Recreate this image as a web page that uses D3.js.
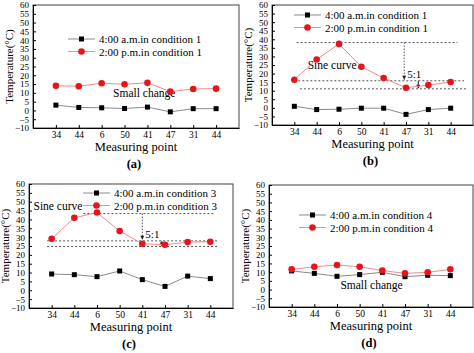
<!DOCTYPE html>
<html>
<head>
<meta charset="utf-8">
<script src="https://cdn.jsdelivr.net/npm/d3@7"></script>
<style>
  body { margin: 0; background: #fff; }
  svg { display: block; }
  svg text { font-family: "Liberation Serif", "Times New Roman", serif; }
</style>
</head>
<body>
<svg id="chart" width="474" height="353"></svg>
<script>
// ----- Data -----
const points = ["34", "44", "6", "50", "41", "47", "31", "44"];
const yTicks = d3.range(-10, 61, 5);

const amA = [3.0, 1.7, 1.5, 1.1, 1.9, -0.8, 1.0, 1.0];
const pmA = [14.0, 13.8, 15.5, 14.9, 15.7, 10.7, 12.2, 12.4];
const amB = [0.9, -1.0, -0.8, -0.2, -0.2, -3.8, -1.0, -0.2];
const pmB = [16.4, 28.2, 37.3, 24.0, 17.4, 11.7, 13.3, 15.1];
const amC = [9.2, 8.8, 7.7, 10.9, 6.0, 2.2, 8.0, 6.6];
const pmC = [29.1, 40.9, 43.9, 33.4, 26.3, 25.7, 27.2, 27.4];
const amD = [10.7, 9.3, 7.6, 8.6, 9.9, 7.4, 8.2, 8.0];
const pmD = [11.6, 13.1, 14.1, 13.1, 10.9, 9.3, 9.9, 11.6];

const legendA = ["4:00 a.m.in condition 1", "2:00 p.m.in condition 1"];
const legendB = ["4:00 a.m.in condition 1", "2:00 p.m.in condition 1"];
const legendC = ["4:00 a.m.in condition 3", "2:00 p.m.in condition 3"];
const legendD = ["4:00 a.m.in condition 4", "2:00 p.m.in condition 4"];

// dashed guide levels: [value, fromIndex, toIndex]
const guidesB = [[38.1, 1.1, 8.3], [15.8, 1.0, 8.6], [11.1, 1.25, 8.75]];
const guidesC = [[43.3, 2.4, 8.2], [27.9, 0.8, 8.3], [24.7, 0.8, 8.3]];

// ----- Layout -----
const panels = [
  { box: [33, 239, 5, 128], am: amA, pm: pmA, legend: legendA, leg: [68, 39], tag: "(a)",
    note: { text: "Small change", x: 3.5, y: 7.5 } },
  { box: [272, 473, 5, 125], am: amB, pm: pmB, legend: legendB, leg: [294, 15], tag: "(b)",
    guides: guidesB, sine: { x: 1.6, y: 22.5 }, arrowX: 5.92, smallX: 6.55 },
  { box: [29, 233, 184, 308], am: amC, pm: pmC, legend: legendC, leg: [83, 193], tag: "(c)",
    guides: guidesC, sine: { x: 0.2, y: 45.5 }, arrowX: 5.0, smallX: 5.86 },
  { box: [269, 473, 185, 307], am: amD, pm: pmD, legend: legendD, leg: [299, 215], tag: "(d)",
    note: { text: "Small change", x: 3.15, y: 0.5 } }
];

const svg = d3.select("#chart");
const serif = "'Liberation Serif', 'Times New Roman', serif";
const grayLine = "#8a8a8a", redLine = "#f28b8b", red = "#e8141c";

function drawPanel(p) {
  const [left, right, top, bottom] = p.box;
  const x = d3.scaleLinear().domain([0, 9]).range([left, right]);
  const y = d3.scaleLinear().domain([-10, 60]).range([bottom, top]);
  const g = svg.append("g");

  // frame
  g.append("rect")
    .attr("x", left).attr("y", top)
    .attr("width", right - left).attr("height", bottom - top)
    .attr("fill", "none").attr("stroke", "#444").attr("stroke-width", 1);

  // y axis
  const yAxis = g.append("g")
    .attr("transform", `translate(${left},0)`)
    .call(d3.axisLeft(y).tickValues(yTicks).tickSizeInner(-3).tickSizeOuter(0).tickPadding(4));
  yAxis.attr("font-family", serif);
  yAxis.select(".domain").attr("stroke", "#000");
  yAxis.selectAll("text").attr("font-size", 9);

  // x axis
  const xAxis = g.append("g")
    .attr("transform", `translate(0,${bottom})`)
    .call(d3.axisBottom(x).tickValues(d3.range(1, 9)).tickFormat(i => points[i - 1])
      .tickSizeInner(-3).tickSizeOuter(0).tickPadding(3));
  xAxis.attr("font-family", serif);
  xAxis.select(".domain").attr("stroke", "#000");
  xAxis.selectAll("text").attr("font-size", 9.5);

  // axis titles
  const midX = (left + right) / 2;
  g.append("text")
    .attr("x", midX).attr("y", bottom + 23)
    .attr("text-anchor", "middle").attr("font-size", 12.5)
    .text("Measuring point");
  g.append("text")
    .attr("x", midX - 2).attr("y", bottom + 40)
    .attr("text-anchor", "middle").attr("font-size", 12.5).attr("font-weight", "bold")
    .text(p.tag);
  g.append("text")
    .attr("transform", `translate(${left - 20},${(top + bottom) / 2}) rotate(-90)`)
    .attr("text-anchor", "middle").attr("font-size", 11)
    .text("Temperature(°C)");

  // guides
  if (p.guides) {
    g.selectAll(".guide").data(p.guides).enter().append("line")
      .attr("x1", d => x(d[1])).attr("x2", d => x(d[2]))
      .attr("y1", d => y(d[0])).attr("y2", d => y(d[0]))
      .attr("stroke", "#555").attr("stroke-width", 1).attr("stroke-dasharray", "2,2");
    const [hi, mid, lo] = p.guides.map(d => d[0]);
    const ax = x(p.arrowX);
    g.append("line")
      .attr("x1", ax).attr("x2", ax).attr("y1", y(hi)).attr("y2", y(mid) - 1)
      .attr("stroke", "#555").attr("stroke-dasharray", "1.5,1.5");
    g.append("path")
      .attr("d", `M${ax - 2},${y(mid) - 5}L${ax + 2},${y(mid) - 5}L${ax},${y(mid) - 1}Z`)
      .attr("fill", "#222");
    g.append("text")
      .attr("x", ax + 3).attr("y", y(mid) - 3)
      .attr("font-size", 11).text("5:1");
    const sx = x(p.smallX);
    g.append("line")
      .attr("x1", sx).attr("x2", sx).attr("y1", y(mid)).attr("y2", y(lo) - 1)
      .attr("stroke", "#222");
    g.append("path")
      .attr("d", `M${sx - 2},${y(lo) - 4}L${sx + 2},${y(lo) - 4}L${sx},${y(lo)}Z`)
      .attr("fill", "#222");
    g.append("text")
      .attr("x", x(p.sine.x)).attr("y", y(p.sine.y))
      .attr("font-size", 11.5).text("Sine curve");
  }

  if (p.note) {
    g.append("text")
      .attr("x", x(p.note.x)).attr("y", y(p.note.y))
      .attr("font-size", 11.5).text(p.note.text);
  }

  // series
  const line = d3.line().x((d, i) => x(i + 1)).y(d => y(d));
  g.append("path").datum(p.am)
    .attr("fill", "none").attr("stroke", grayLine).attr("stroke-width", 1).attr("d", line);
  g.append("path").datum(p.pm)
    .attr("fill", "none").attr("stroke", redLine).attr("stroke-width", 1).attr("d", line);
  g.selectAll(".sq").data(p.am).enter().append("rect")
    .attr("x", (d, i) => x(i + 1) - 2.5).attr("y", d => y(d) - 2.5)
    .attr("width", 5).attr("height", 5).attr("fill", "#000");
  g.selectAll(".dot").data(p.pm).enter().append("circle")
    .attr("cx", (d, i) => x(i + 1)).attr("cy", d => y(d))
    .attr("r", 3.3).attr("fill", red);

  // legend
  const [lx, ly] = p.leg;
  const rows = [{ c: grayLine, m: "sq" }, { c: redLine, m: "dot" }];
  rows.forEach((r, i) => {
    const yy = ly + i * 12.5;
    g.append("line").attr("x1", lx).attr("x2", lx + 27).attr("y1", yy).attr("y2", yy)
      .attr("stroke", r.c);
    if (r.m === "sq") {
      g.append("rect").attr("x", lx + 11).attr("y", yy - 2.5).attr("width", 5).attr("height", 5)
        .attr("fill", "#000");
    } else {
      g.append("circle").attr("cx", lx + 13.5).attr("cy", yy).attr("r", 3.3).attr("fill", red);
    }
    g.append("text").attr("x", lx + 31).attr("y", yy + 4)
      .attr("font-size", 11).text(p.legend[i]);
  });
}

panels.forEach(drawPanel);
svg.selectAll("text").attr("font-family", serif);
</script>
</body>
</html>
